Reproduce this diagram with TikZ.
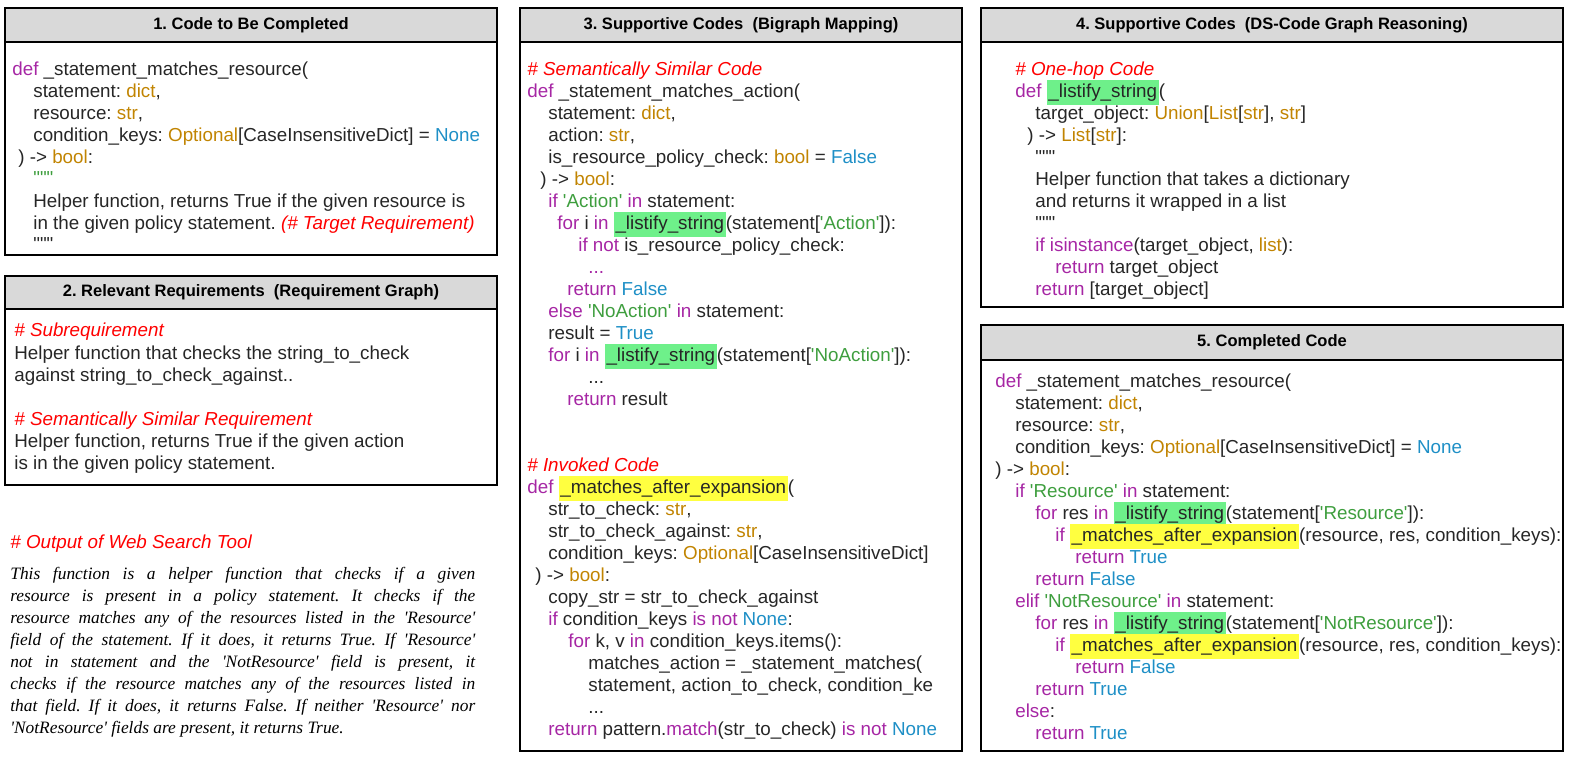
\documentclass[tikz,border=0pt]{standalone}
\usepackage{fontspec}
\usepackage{xcolor}
\newfontfamily\codefont{Liberation Sans}
\newfontfamily\serifit{Liberation Serif}
\definecolor{kwc}{HTML}{A626A4}
\definecolor{tyc}{HTML}{C18401}
\definecolor{cnc}{HTML}{1E8FC6}
\definecolor{stc}{HTML}{3E9E3E}
\definecolor{hgc}{HTML}{6EF08A}
\definecolor{hyc}{HTML}{FFFF40}
\definecolor{hdc}{HTML}{D9D9D9}
\newcommand\kw[1]{\textcolor{kwc}{#1}}
\newcommand\ty[1]{\textcolor{tyc}{#1}}
\newcommand\cn[1]{\textcolor{cnc}{#1}}
\newcommand\st[1]{\textcolor{stc}{#1}}
\newcommand\cm[1]{\textcolor{red}{\itshape #1}}
\newcommand\hg[1]{{\setlength\fboxsep{1pt}\colorbox{hgc}{\strut #1}}}
\newcommand\hy[1]{{\setlength\fboxsep{1pt}\colorbox{hyc}{\strut #1}}}
\newcommand\Ln[4]{\node[code] (#1) at (#2,#3+5) {#4};}
\frenchspacing
\tikzset{
  code/.style={anchor=base west,inner sep=0pt,font=\codefont\fontsize{10.7pt}{12pt}\selectfont,text=black!85},
  web/.style={anchor=base west,inner sep=0pt,font=\serifit\itshape\fontsize{9.9pt}{11pt}\selectfont},
  panel/.style={draw=black,line width=1.2pt},
  hdr/.style={fill=hdc,draw=black,line width=1.2pt},
  hdrtext/.style={font=\codefont\bfseries\fontsize{9.4pt}{11pt}\selectfont}
}
\begin{document}
\begin{tikzpicture}[x=0.02cm,y=-0.02cm]
\useasboundingbox (0,0) rectangle (1579,762);
% panels
\foreach \n/\a/\b/\c/\d/\h/\t in {
 p1/5/8/497/255/42/{1. Code to Be Completed},
 p2/5/276/497/485/309/{2. Relevant Requirements\ \ (Requirement Graph)},
 p3/520/8/962/751/42/{3. Supportive Codes\ \ (Bigraph Mapping)},
 p4/981/8/1563/307/42/{4. Supportive Codes\ \ (DS-Code Graph Reasoning)},
 p5/981/325/1563/751/360/{5. Completed Code}}{
  \draw[hdr] (\a,\b) rectangle (\c,\h);
  \node[hdrtext] (\n h) at ({(\a+\c)/2},{(\b+\h)/2}) {\t};
  \draw[panel] (\a,\b) rectangle (\c,\d);
}
% box 1
\Ln{a1}{12}{70}{\kw{def} \_statement\_matches\_resource(}
\Ln{a2}{33}{92}{statement: \ty{dict},}
\Ln{a3}{33}{114}{resource: \ty{str},}
\Ln{a4}{33}{136}{condition\_keys: \ty{Optional}[CaseInsensitiveDict] = \cn{None}}
\Ln{a5}{18}{158}{) -> \ty{bool}:}
\Ln{a6}{33}{179}{\st{"""}}
\Ln{a7}{33}{202}{Helper function, returns True if the given resource is}
\Ln{a8}{33}{224}{in the given policy statement. \cm{(\# Target Requirement)}}
\Ln{a9}{33}{245}{"""}
% box 2
\Ln{b1}{14}{331}{\cm{\# Subrequirement}}
\Ln{b2}{14}{354}{Helper function that checks the string\_to\_check}
\Ln{b3}{14}{376}{against string\_to\_check\_against..}
\Ln{b4}{14}{420}{\cm{\# Semantically Similar Requirement}}
\Ln{b5}{14}{442}{Helper function, returns True if the given action}
\Ln{b6}{14}{464}{is in the given policy statement.}
% web search
\Ln{w0}{10}{543}{\cm{\# Output of Web Search Tool}}
\node[web] (w1) at (10,579) {\makebox[9.3cm][s]{This function is a helper function that checks if a given}};
\node[web] (w2) at (10,601) {\makebox[9.3cm][s]{resource is present in a policy statement. It checks if the}};
\node[web] (w3) at (10,623) {\makebox[9.3cm][s]{resource matches any of the resources listed in the 'Resource'}};
\node[web] (w4) at (10,645) {\makebox[9.3cm][s]{field of the statement. If it does, it returns True. If 'Resource'}};
\node[web] (w5) at (10,667) {\makebox[9.3cm][s]{not in statement and the 'NotResource' field is present, it}};
\node[web] (w6) at (10,689) {\makebox[9.3cm][s]{checks if the resource matches any of the resources listed in}};
\node[web] (w7) at (10,711) {\makebox[9.3cm][s]{that field. If it does, it returns False. If neither 'Resource' nor}};
\node[web] (w8) at (10,733) {'NotResource' fields are present, it returns True.};
% box 3
\Ln{c1}{527}{70}{\cm{\# Semantically Similar Code}}
\Ln{c2}{527}{92}{\kw{def} \_statement\_matches\_action(}
\Ln{c3}{548}{114}{statement: \ty{dict},}
\Ln{c4}{548}{136}{action: \ty{str},}
\Ln{c5}{548}{158}{is\_resource\_policy\_check: \ty{bool} = \cn{False}}
\Ln{c6}{540}{180}{) -> \ty{bool}:}
\Ln{c7}{548}{202}{\kw{if} \st{'Action'} \kw{in} statement:}
\Ln{c8}{557}{224}{\kw{for} i \kw{in} \hg{\_listify\_string}(statement[\st{'Action'}]):}
\Ln{c9}{578}{246}{\kw{if not} is\_resource\_policy\_check:}
\Ln{c10}{588}{268}{\kw{...}}
\Ln{c11}{567}{290}{\kw{return} \cn{False}}
\Ln{c12}{548}{312}{\kw{else} \st{'NoAction'} \kw{in} statement:}
\Ln{c13}{548}{334}{result = \cn{True}}
\Ln{c14}{548}{356}{\kw{for} i \kw{in} \hg{\_listify\_string}(statement[\st{'NoAction'}]):}
\Ln{c15}{588}{378}{...}
\Ln{c16}{567}{400}{\kw{return} result}
\Ln{c17}{527}{466}{\cm{\# Invoked Code}}
\Ln{c18}{527}{488}{\kw{def} \hy{\_matches\_after\_expansion}(}
\Ln{c19}{548}{510}{str\_to\_check: \ty{str},}
\Ln{c20}{548}{532}{str\_to\_check\_against: \ty{str},}
\Ln{c21}{548}{554}{condition\_keys: \ty{Optional}[CaseInsensitiveDict]}
\Ln{c22}{535}{576}{) -> \ty{bool}:}
\Ln{c23}{548}{598}{copy\_str = str\_to\_check\_against}
\Ln{c24}{548}{620}{\kw{if} condition\_keys \kw{is not} \cn{None}:}
\Ln{c25}{568}{642}{\kw{for} k, v \kw{in} condition\_keys.items():}
\Ln{c26}{588}{664}{matches\_action = \_statement\_matches(}
\Ln{c27}{588}{686}{statement, action\_to\_check, condition\_ke}
\Ln{c28}{588}{708}{...}
\Ln{c29}{548}{730}{\kw{return} pattern.\kw{match}(str\_to\_check) \kw{is not} \cn{None}}
% box 4
\Ln{d1}{1015}{70}{\cm{\# One-hop Code}}
\Ln{d2}{1015}{92}{\kw{def} \hg{\_listify\_string}(}
\Ln{d3}{1035}{114}{target\_object: \ty{Union}[\ty{List}[\ty{str}], \ty{str}]}
\Ln{d4}{1027}{136}{) -> \ty{List}[\ty{str}]:}
\Ln{d5}{1035}{158}{"""}
\Ln{d6}{1035}{180}{Helper function that takes a dictionary}
\Ln{d7}{1035}{202}{and returns it wrapped in a list}
\Ln{d8}{1035}{224}{"""}
\Ln{d9}{1035}{246}{\kw{if} \kw{isinstance}(target\_object, \ty{list}):}
\Ln{d10}{1055}{268}{\kw{return} target\_object}
\Ln{d11}{1035}{290}{\kw{return} [target\_object]}
% box 5
\Ln{e1}{995}{382}{\kw{def} \_statement\_matches\_resource(}
\Ln{e2}{1015}{404}{statement: \ty{dict},}
\Ln{e3}{1015}{426}{resource: \ty{str},}
\Ln{e4}{1015}{448}{condition\_keys: \ty{Optional}[CaseInsensitiveDict] = \cn{None}}
\Ln{e5}{995}{470}{) -> \ty{bool}:}
\Ln{e6}{1015}{492}{\kw{if} \st{'Resource'} \kw{in} statement:}
\Ln{e7}{1035}{514}{\kw{for} res \kw{in} \hg{\_listify\_string}(statement[\st{'Resource'}]):}
\Ln{e8}{1055}{536}{\kw{if} \hy{\_matches\_after\_expansion}(resource, res, condition\_keys):}
\Ln{e9}{1075}{558}{\kw{return} \cn{True}}
\Ln{e10}{1035}{580}{\kw{return} \cn{False}}
\Ln{e11}{1015}{602}{\kw{elif} \st{'NotResource'} \kw{in} statement:}
\Ln{e12}{1035}{624}{\kw{for} res \kw{in} \hg{\_listify\_string}(statement[\st{'NotResource'}]):}
\Ln{e13}{1055}{646}{\kw{if} \hy{\_matches\_after\_expansion}(resource, res, condition\_keys):}
\Ln{e14}{1075}{668}{\kw{return} \cn{False}}
\Ln{e15}{1035}{690}{\kw{return} \cn{True}}
\Ln{e16}{1015}{712}{\kw{else}:}
\Ln{e17}{1035}{734}{\kw{return} \cn{True}}
\end{tikzpicture}
\end{document}
